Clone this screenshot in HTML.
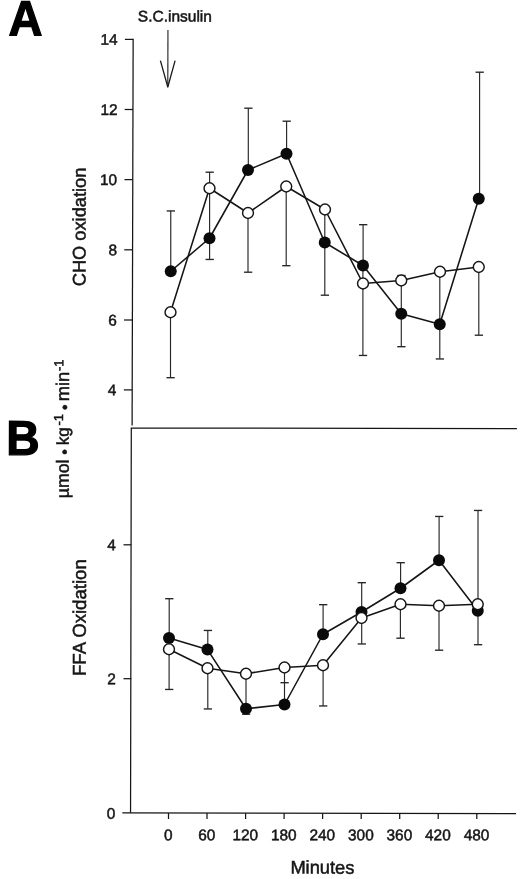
<!DOCTYPE html>
<html lang="en"><head><meta charset="utf-8"><title>Figure</title>
<style>
html,body{margin:0;padding:0;background:#fff;}
body{width:520px;height:879px;overflow:hidden;}
svg{display:block;font-family:"Liberation Sans",Arial,sans-serif;fill:#151515;}
text{stroke:#151515;stroke-width:0.5px;}
.ax{stroke:#151515;stroke-width:1.25;fill:none;stroke-linecap:butt;}
.dl{stroke:#151515;stroke-width:1.55;fill:none;stroke-linejoin:round;}
.eb{stroke:#262626;stroke-width:1.15;fill:none;}
.fc{fill:#0a0a0a;stroke:none;}
.oc{fill:#fff;stroke:#151515;stroke-width:1.45;}
.tk{font-size:15.4px;}
.big{font-size:47px;font-weight:bold;fill:#000;stroke:#000;stroke-width:1.2px;stroke-linejoin:miter;}
</style></head><body>
<svg width="520" height="879" viewBox="0 0 520 879">
<rect width="520" height="879" fill="#fff" stroke="none"/>

<text class="big" transform="translate(8.6,35.2) scale(1,1.048) rotate(0.17)">A</text>
<text class="big" style="font-size:46.2px" transform="translate(6.35,454.7) scale(1,1.055) rotate(0.17)">B</text>
<text x="137.8" y="21.45" font-size="15.5" transform="rotate(0.17,137.8,21.45)">S.C.insulin</text>
<path class="eb" style="stroke-width:1.15" d="M167.95,29.9 L167.8,86.5"/>
<path class="eb" style="stroke-width:1.3;stroke:#1a1a1a;stroke-linejoin:round" d="M160.4,60.6 L167.8,87.0 L175.1,60.6"/>
<path class="ax" d="M133.15,38.8 L132.1,425.4"/>
<path class="ax" d="M124.90,39.4 L133.20,39.4"/>
<text class="tk" x="117.7" y="44.9" text-anchor="end" transform="rotate(0.17,117.7,44.9)">14</text>
<path class="ax" d="M124.69,109.5 L132.99,109.5"/>
<text class="tk" x="117.6" y="115.0" text-anchor="end" transform="rotate(0.17,117.6,115.0)">12</text>
<path class="ax" d="M124.48,179.6 L132.78,179.6"/>
<text class="tk" x="117.2" y="185.1" text-anchor="end" transform="rotate(0.17,117.2,185.1)">10</text>
<path class="ax" d="M124.27,249.8 L132.57,249.8"/>
<text class="tk" x="117.0" y="255.3" text-anchor="end" transform="rotate(0.17,117.0,255.3)">8</text>
<path class="ax" d="M124.06,320.0 L132.36,320.0"/>
<text class="tk" x="116.8" y="325.5" text-anchor="end" transform="rotate(0.17,116.8,325.5)">6</text>
<path class="ax" d="M123.85,389.9 L132.15,389.9"/>
<text class="tk" x="116.4" y="395.4" text-anchor="end" transform="rotate(0.17,116.4,395.4)">4</text>
<path class="ax" d="M516.9,428.6 L131.3,428.05 L130.55,812.8"/>
<path class="ax" d="M122.3,812.8 L516,813.65"/>
<path class="ax" d="M123.5,544.8 L131.3,544.8"/>
<text class="tk" x="115.9" y="550.3" text-anchor="end" transform="rotate(0.17,115.9,550.3)">4</text>
<path class="ax" d="M123.5,678.7 L131.3,678.7"/>
<text class="tk" x="115.8" y="684.2" text-anchor="end" transform="rotate(0.17,115.8,684.2)">2</text>
<text class="tk" x="115.2" y="818.8" text-anchor="end" transform="rotate(0.17,115.2,818.8)">0</text>
<path class="ax" d="M168.5,813.00 L168.5,819"/>
<text class="tk" x="168.2" y="840.3" text-anchor="middle" transform="rotate(0.17,168.2,840.3)">0</text>
<path class="ax" d="M207,813.09 L207,819"/>
<text class="tk" x="206.7" y="840.3" text-anchor="middle" transform="rotate(0.17,206.7,840.3)">60</text>
<path class="ax" d="M245.6,813.17 L245.6,819"/>
<text class="tk" x="245.29999999999998" y="840.3" text-anchor="middle" transform="rotate(0.17,245.29999999999998,840.3)">120</text>
<path class="ax" d="M284.1,813.26 L284.1,819"/>
<text class="tk" x="283.8" y="840.3" text-anchor="middle" transform="rotate(0.17,283.8,840.3)">180</text>
<path class="ax" d="M322.6,813.34 L322.6,819"/>
<text class="tk" x="322.3" y="840.3" text-anchor="middle" transform="rotate(0.17,322.3,840.3)">240</text>
<path class="ax" d="M361.2,813.43 L361.2,819"/>
<text class="tk" x="360.9" y="840.3" text-anchor="middle" transform="rotate(0.17,360.9,840.3)">300</text>
<path class="ax" d="M399.7,813.51 L399.7,819"/>
<text class="tk" x="399.4" y="840.3" text-anchor="middle" transform="rotate(0.17,399.4,840.3)">360</text>
<path class="ax" d="M438.2,813.60 L438.2,819"/>
<text class="tk" x="437.9" y="840.3" text-anchor="middle" transform="rotate(0.17,437.9,840.3)">420</text>
<path class="ax" d="M476.8,813.68 L476.8,819"/>
<text class="tk" x="476.5" y="840.3" text-anchor="middle" transform="rotate(0.17,476.5,840.3)">480</text>
<text x="290.4" y="873.5" font-size="18.3" transform="rotate(0.17,290.4,873.5)">Minutes</text>
<text font-size="18.25" transform="translate(85.4,286.3) rotate(-89.83)">CHO oxidation</text>
<text font-size="18.6" transform="translate(85.7,676.0) rotate(-89.83)">FFA Oxidation</text>
<g transform="rotate(0.17,60,430) rotate(-90)" font-size="18.5"><text x="-498.2" y="68.85" font-size="17.7">µmol</text><text x="-452" y="70.2" font-size="16" text-anchor="middle">•</text><text x="-445.3" y="68.85" font-size="17.1">kg</text><text x="-425.6" y="63" font-size="13">-1</text><text x="-407.2" y="70.2" font-size="16" text-anchor="middle">•</text><text x="-401.2" y="68.85" font-size="18.3">min</text><text x="-371.0" y="63" font-size="13">-1</text></g>
<path class="eb" d="M170.75,210.75 L170.75,271.25"/>
<path class="eb" style="stroke-width:1.35" d="M166.7,210.95 L175.0,210.95"/>
<path class="eb" d="M170.5,312.25 L170.5,377.5"/>
<path class="eb" style="stroke-width:1.35" d="M166.45,377.7 L174.75,377.7"/>
<path class="eb" d="M209.6,172 L209.6,259.25"/>
<path class="eb" style="stroke-width:1.35" d="M205.54999999999998,172.2 L213.85,172.2"/>
<path class="eb" style="stroke-width:1.35" d="M205.54999999999998,259.45 L213.85,259.45"/>
<path class="eb" d="M248.3,108 L248.3,170"/>
<path class="eb" style="stroke-width:1.35" d="M244.25,108.2 L252.55,108.2"/>
<path class="eb" d="M248,213 L248,272"/>
<path class="eb" style="stroke-width:1.35" d="M243.95,272.2 L252.25,272.2"/>
<path class="eb" d="M286.6,121 L286.6,153.75"/>
<path class="eb" style="stroke-width:1.35" d="M282.55,121.2 L290.85,121.2"/>
<path class="eb" d="M286.2,186.5 L286.2,265.5"/>
<path class="eb" style="stroke-width:1.35" d="M282.15,265.7 L290.45,265.7"/>
<path class="eb" d="M324.8,209.5 L324.8,295"/>
<path class="eb" style="stroke-width:1.35" d="M320.75,295.2 L329.05,295.2"/>
<path class="eb" d="M363.1,224.5 L363.1,265.5"/>
<path class="eb" style="stroke-width:1.35" d="M359.05,224.7 L367.35,224.7"/>
<path class="eb" d="M362.9,265.5 L362.9,355.25"/>
<path class="eb" style="stroke-width:1.35" d="M358.84999999999997,355.45 L367.15,355.45"/>
<path class="eb" d="M401.3,275.3 L401.3,346.5"/>
<path class="eb" style="stroke-width:1.35" d="M397.25,275.5 L405.55,275.5"/>
<path class="eb" style="stroke-width:1.35" d="M397.25,346.7 L405.55,346.7"/>
<path class="eb" d="M439.8,271.75 L439.8,358.75"/>
<path class="eb" style="stroke-width:1.35" d="M435.75,358.95 L444.05,358.95"/>
<path class="eb" d="M479.6,72 L479.6,198.75"/>
<path class="eb" style="stroke-width:1.35" d="M475.55,72.2 L483.85,72.2"/>
<path class="eb" d="M478.8,267 L478.8,335"/>
<path class="eb" style="stroke-width:1.35" d="M474.75,335.2 L483.05,335.2"/>
<path class="eb" d="M169.2,598.5 L169.2,638"/>
<path class="eb" style="stroke-width:1.35" d="M165.14999999999998,598.7 L173.45,598.7"/>
<path class="eb" d="M169.1,649.25 L169.1,689.25"/>
<path class="eb" style="stroke-width:1.35" d="M165.04999999999998,689.45 L173.35,689.45"/>
<path class="eb" d="M207.8,630.25 L207.8,649.6"/>
<path class="eb" style="stroke-width:1.35" d="M203.75,630.45 L212.05,630.45"/>
<path class="eb" d="M207.8,668.25 L207.8,708.75"/>
<path class="eb" style="stroke-width:1.35" d="M203.75,708.95 L212.05,708.95"/>
<path class="eb" d="M246,673.75 L246,714.0"/>
<path class="eb" style="stroke-width:1.35" d="M241.95,714.2 L250.25,714.2"/>
<path class="eb" d="M284.5,667.5 L284.5,704.5"/>
<path class="eb" style="stroke-width:1.35" d="M280.45,682.7 L288.75,682.7"/>
<path class="eb" d="M323.1,604.5 L323.1,634.25"/>
<path class="eb" style="stroke-width:1.35" d="M319.05,604.7 L327.35,604.7"/>
<path class="eb" d="M323.1,665.25 L323.1,705.75"/>
<path class="eb" style="stroke-width:1.35" d="M319.05,705.95 L327.35,705.95"/>
<path class="eb" d="M361.7,582.5 L361.7,612"/>
<path class="eb" style="stroke-width:1.35" d="M357.65,582.7 L365.95,582.7"/>
<path class="eb" d="M361.7,618 L361.7,643.75"/>
<path class="eb" style="stroke-width:1.35" d="M357.65,643.95 L365.95,643.95"/>
<path class="eb" d="M400.6,562.5 L400.6,588.25"/>
<path class="eb" style="stroke-width:1.35" d="M396.55,562.7 L404.85,562.7"/>
<path class="eb" d="M400.4,604.25 L400.4,638"/>
<path class="eb" style="stroke-width:1.35" d="M396.34999999999997,638.2 L404.65,638.2"/>
<path class="eb" d="M439.1,516.25 L439.1,560.25"/>
<path class="eb" style="stroke-width:1.35" d="M435.05,516.45 L443.35,516.45"/>
<path class="eb" d="M439,605.75 L439,650"/>
<path class="eb" style="stroke-width:1.35" d="M434.95,650.2 L443.25,650.2"/>
<path class="eb" d="M478,510.25 L478,644.5"/>
<path class="eb" style="stroke-width:1.35" d="M473.95,510.45 L482.25,510.45"/>
<path class="eb" style="stroke-width:1.35" d="M473.95,644.7 L482.25,644.7"/>
<polyline class="dl" points="170.75,271.25 209.5,238.25 248,170 286.5,153.75 324.75,242.5 363,265.5 401.25,313.75 439.75,324.25 478.75,198.75"/>
<polyline class="dl" points="170.5,312.25 209.5,188.25 248,213 286.25,186.5 325,209.5 363,283.5 401.25,280.5 440,271.75 478.75,267"/>
<circle class="fc" cx="170.75" cy="271.25" r="6.0"/>
<circle class="fc" cx="209.5" cy="238.25" r="6.0"/>
<circle class="fc" cx="248" cy="170" r="6.0"/>
<circle class="fc" cx="286.5" cy="153.75" r="6.0"/>
<circle class="fc" cx="324.75" cy="242.5" r="6.0"/>
<circle class="fc" cx="363" cy="265.5" r="6.0"/>
<circle class="fc" cx="401.25" cy="313.75" r="6.0"/>
<circle class="fc" cx="439.75" cy="324.25" r="6.0"/>
<circle class="fc" cx="478.75" cy="198.75" r="6.0"/>
<circle class="oc" cx="170.5" cy="312.25" r="5.45"/>
<circle class="oc" cx="209.5" cy="188.25" r="5.45"/>
<circle class="oc" cx="248" cy="213" r="5.45"/>
<circle class="oc" cx="286.25" cy="186.5" r="5.45"/>
<circle class="oc" cx="325" cy="209.5" r="5.45"/>
<circle class="oc" cx="363" cy="283.5" r="5.45"/>
<circle class="oc" cx="401.25" cy="280.5" r="5.45"/>
<circle class="oc" cx="440" cy="271.75" r="5.45"/>
<circle class="oc" cx="478.75" cy="267" r="5.45"/>
<polyline class="dl" points="169,638 207.5,649.6 246,708.75 284.5,704.5 323,634.25 361.5,612 400.5,588.25 439,560.25 477.75,610.75"/>
<polyline class="dl" points="169,649.25 207.5,668.25 246,673.75 284.5,667.5 323,665.25 361.5,618 400.5,604.25 439,605.75 477.75,604.25"/>
<circle class="fc" cx="169" cy="638" r="6.0"/>
<circle class="fc" cx="207.5" cy="649.6" r="6.0"/>
<circle class="fc" cx="246" cy="708.75" r="6.0"/>
<circle class="fc" cx="284.5" cy="704.5" r="6.0"/>
<circle class="fc" cx="323" cy="634.25" r="6.0"/>
<circle class="fc" cx="361.5" cy="612" r="6.0"/>
<circle class="fc" cx="400.5" cy="588.25" r="6.0"/>
<circle class="fc" cx="439" cy="560.25" r="6.0"/>
<circle class="fc" cx="477.75" cy="610.75" r="6.0"/>
<circle class="oc" cx="169" cy="649.25" r="5.45"/>
<circle class="oc" cx="207.5" cy="668.25" r="5.45"/>
<circle class="oc" cx="246" cy="673.75" r="5.45"/>
<circle class="oc" cx="284.5" cy="667.5" r="5.45"/>
<circle class="oc" cx="323" cy="665.25" r="5.45"/>
<circle class="oc" cx="361.5" cy="618" r="5.45"/>
<circle class="oc" cx="400.5" cy="604.25" r="5.45"/>
<circle class="oc" cx="439" cy="605.75" r="5.45"/>
<circle class="oc" cx="477.75" cy="604.25" r="5.45"/>
</svg></body></html>
